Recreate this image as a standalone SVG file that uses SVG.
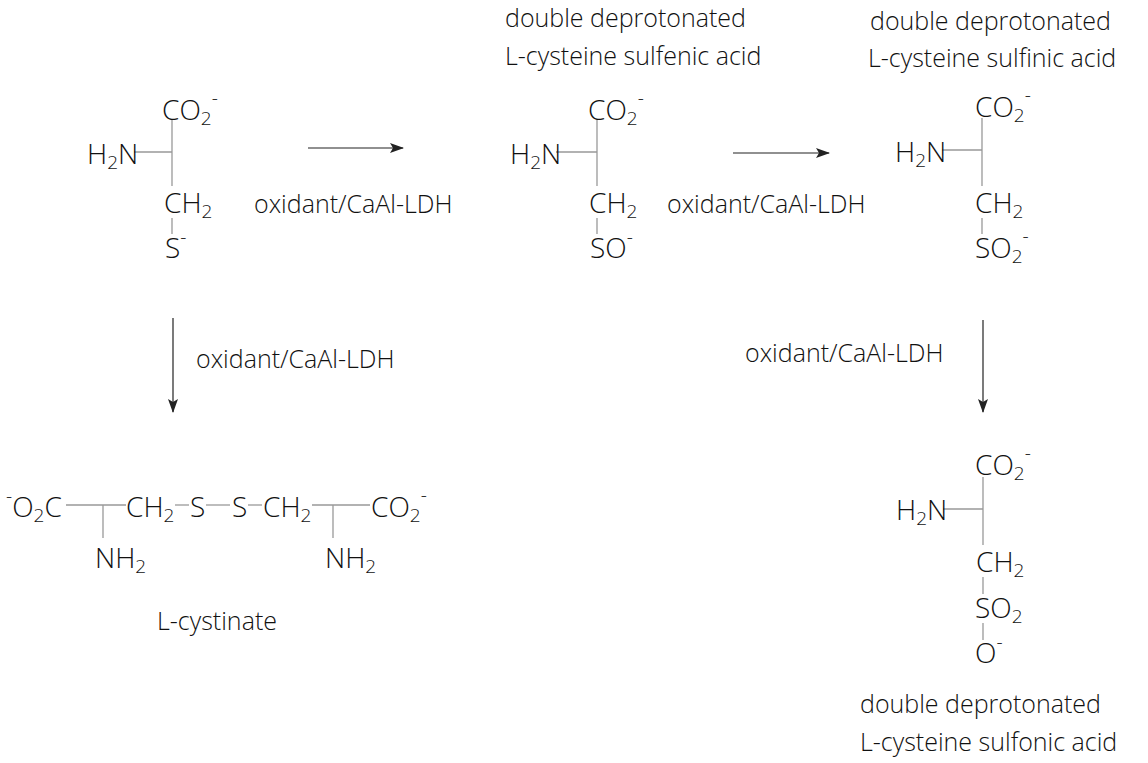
<svg xmlns="http://www.w3.org/2000/svg" width="1148" height="763" viewBox="0 0 1148 763">
<style>
text{font-family:"Open Sans","Liberation Sans",sans-serif;font-weight:300;fill:#111}
.m{font-size:28px}.l{font-size:25px}
.s{font-size:19px}
.b{stroke:#999;stroke-width:1.3;fill:none}
.a{stroke:#222;stroke-width:1.2;fill:none;marker-end:url(#ah)}
</style>
<defs>
<marker id="ah" markerWidth="14" markerHeight="10" refX="13" refY="5" orient="auto" markerUnits="userSpaceOnUse"><path d="M0,0 L14,5 L0,10 L3,5 Z" fill="#222"/></marker>
</defs>
<g id="connectors">
<line class="a" x1="308" y1="148" x2="403" y2="148"/>
<line class="a" x1="733" y1="153" x2="829" y2="153"/>
<line class="a" x1="173" y1="318" x2="173" y2="412"/>
<line class="a" x1="983" y1="320" x2="983" y2="412"/>
<text class="l" x="254" y="213">oxidant/CaAl-LDH</text>
<text class="l" x="667" y="213">oxidant/CaAl-LDH</text>
<text class="l" x="196" y="368">oxidant/CaAl-LDH</text>
<text class="l" x="745" y="362">oxidant/CaAl-LDH</text>
</g>
<g id="cysteinate">
<line class="b" x1="134" y1="152" x2="172" y2="152"/>
<line class="b" x1="172" y1="120" x2="172" y2="186"/>
<line class="b" x1="172" y1="218" x2="172" y2="234"/>
<text class="m" x="162" y="120">CO<tspan class="s" dy="5">2</tspan><tspan class="s" dy="-20">-</tspan></text>
<text class="m" x="87" y="164">H<tspan class="s" dy="5">2</tspan><tspan dy="-5">N</tspan></text>
<text class="m" x="164" y="213">CH<tspan class="s" dy="5">2</tspan></text>
<text class="m" x="165" y="258">S<tspan class="s" dy="-14">-</tspan></text>
</g>
<g id="sulfenic">
<text class="l" x="505" y="27">double deprotonated</text>
<text class="l" x="505" y="65">L-cysteine sulfenic acid</text>
<line class="b" x1="556" y1="152" x2="597" y2="152"/>
<line class="b" x1="597" y1="120" x2="597" y2="186"/>
<line class="b" x1="597" y1="218" x2="597" y2="234"/>
<text class="m" x="588" y="120">CO<tspan class="s" dy="5">2</tspan><tspan class="s" dy="-20">-</tspan></text>
<text class="m" x="510" y="164">H<tspan class="s" dy="5">2</tspan><tspan dy="-5">N</tspan></text>
<text class="m" x="589" y="213">CH<tspan class="s" dy="5">2</tspan></text>
<text class="m" x="590" y="258">SO<tspan class="s" dy="-14">-</tspan></text>
</g>
<g id="sulfinic">
<text class="l" x="870" y="30">double deprotonated</text>
<text class="l" x="868" y="67">L-cysteine sulfinic acid</text>
<line class="b" x1="942" y1="150" x2="982" y2="150"/>
<line class="b" x1="982" y1="118" x2="982" y2="186"/>
<line class="b" x1="982" y1="218" x2="982" y2="234"/>
<text class="m" x="975" y="117">CO<tspan class="s" dy="5">2</tspan><tspan class="s" dy="-20">-</tspan></text>
<text class="m" x="895" y="162">H<tspan class="s" dy="5">2</tspan><tspan dy="-5">N</tspan></text>
<text class="m" x="975" y="213">CH<tspan class="s" dy="5">2</tspan></text>
<text class="m" x="975" y="258">SO<tspan class="s" dy="5">2</tspan><tspan class="s" dy="-20">-</tspan></text>
</g>
<g id="sulfonic">
<line class="b" x1="943" y1="509" x2="983" y2="509"/>
<line class="b" x1="983" y1="477" x2="983" y2="545"/>
<line class="b" x1="983" y1="577" x2="983" y2="594"/>
<line class="b" x1="983" y1="623" x2="983" y2="640"/>
<text class="m" x="975" y="475">CO<tspan class="s" dy="5">2</tspan><tspan class="s" dy="-20">-</tspan></text>
<text class="m" x="896" y="520">H<tspan class="s" dy="5">2</tspan><tspan dy="-5">N</tspan></text>
<text class="m" x="976" y="572">CH<tspan class="s" dy="5">2</tspan></text>
<text class="m" x="975" y="618">SO<tspan class="s" dy="5">2</tspan></text>
<text class="m" x="975" y="663">O<tspan class="s" dy="-14">-</tspan></text>
<text class="l" x="860" y="713">double deprotonated</text>
<text class="l" x="860" y="751">L-cysteine sulfonic acid</text>
</g>
<g id="cystinate">
<line class="b" x1="66" y1="505" x2="126" y2="505"/>
<line class="b" x1="103" y1="505" x2="103" y2="538"/>
<line class="b" x1="175" y1="505" x2="189" y2="505"/>
<line class="b" x1="206" y1="505" x2="230" y2="505"/>
<line class="b" x1="248" y1="505" x2="262" y2="505"/>
<line class="b" x1="312" y1="505" x2="370" y2="505"/>
<line class="b" x1="333" y1="505" x2="333" y2="538"/>
<text class="m" x="6" y="517"><tspan class="s" dy="-14">-</tspan><tspan dy="14">O</tspan><tspan class="s" dy="5">2</tspan><tspan dy="-5">C</tspan></text>
<text class="m" x="126" y="517">CH<tspan class="s" dy="5">2</tspan></text>
<text class="m" x="190" y="517">S</text>
<text class="m" x="232" y="517">S</text>
<text class="m" x="263" y="517">CH<tspan class="s" dy="5">2</tspan></text>
<text class="m" x="371" y="517">CO<tspan class="s" dy="5">2</tspan><tspan class="s" dy="-20">-</tspan></text>
<text class="m" x="95" y="568">NH<tspan class="s" dy="5">2</tspan></text>
<text class="m" x="325" y="568">NH<tspan class="s" dy="5">2</tspan></text>
<text class="l" x="157" y="630">L-cystinate</text>
</g>
</svg>
